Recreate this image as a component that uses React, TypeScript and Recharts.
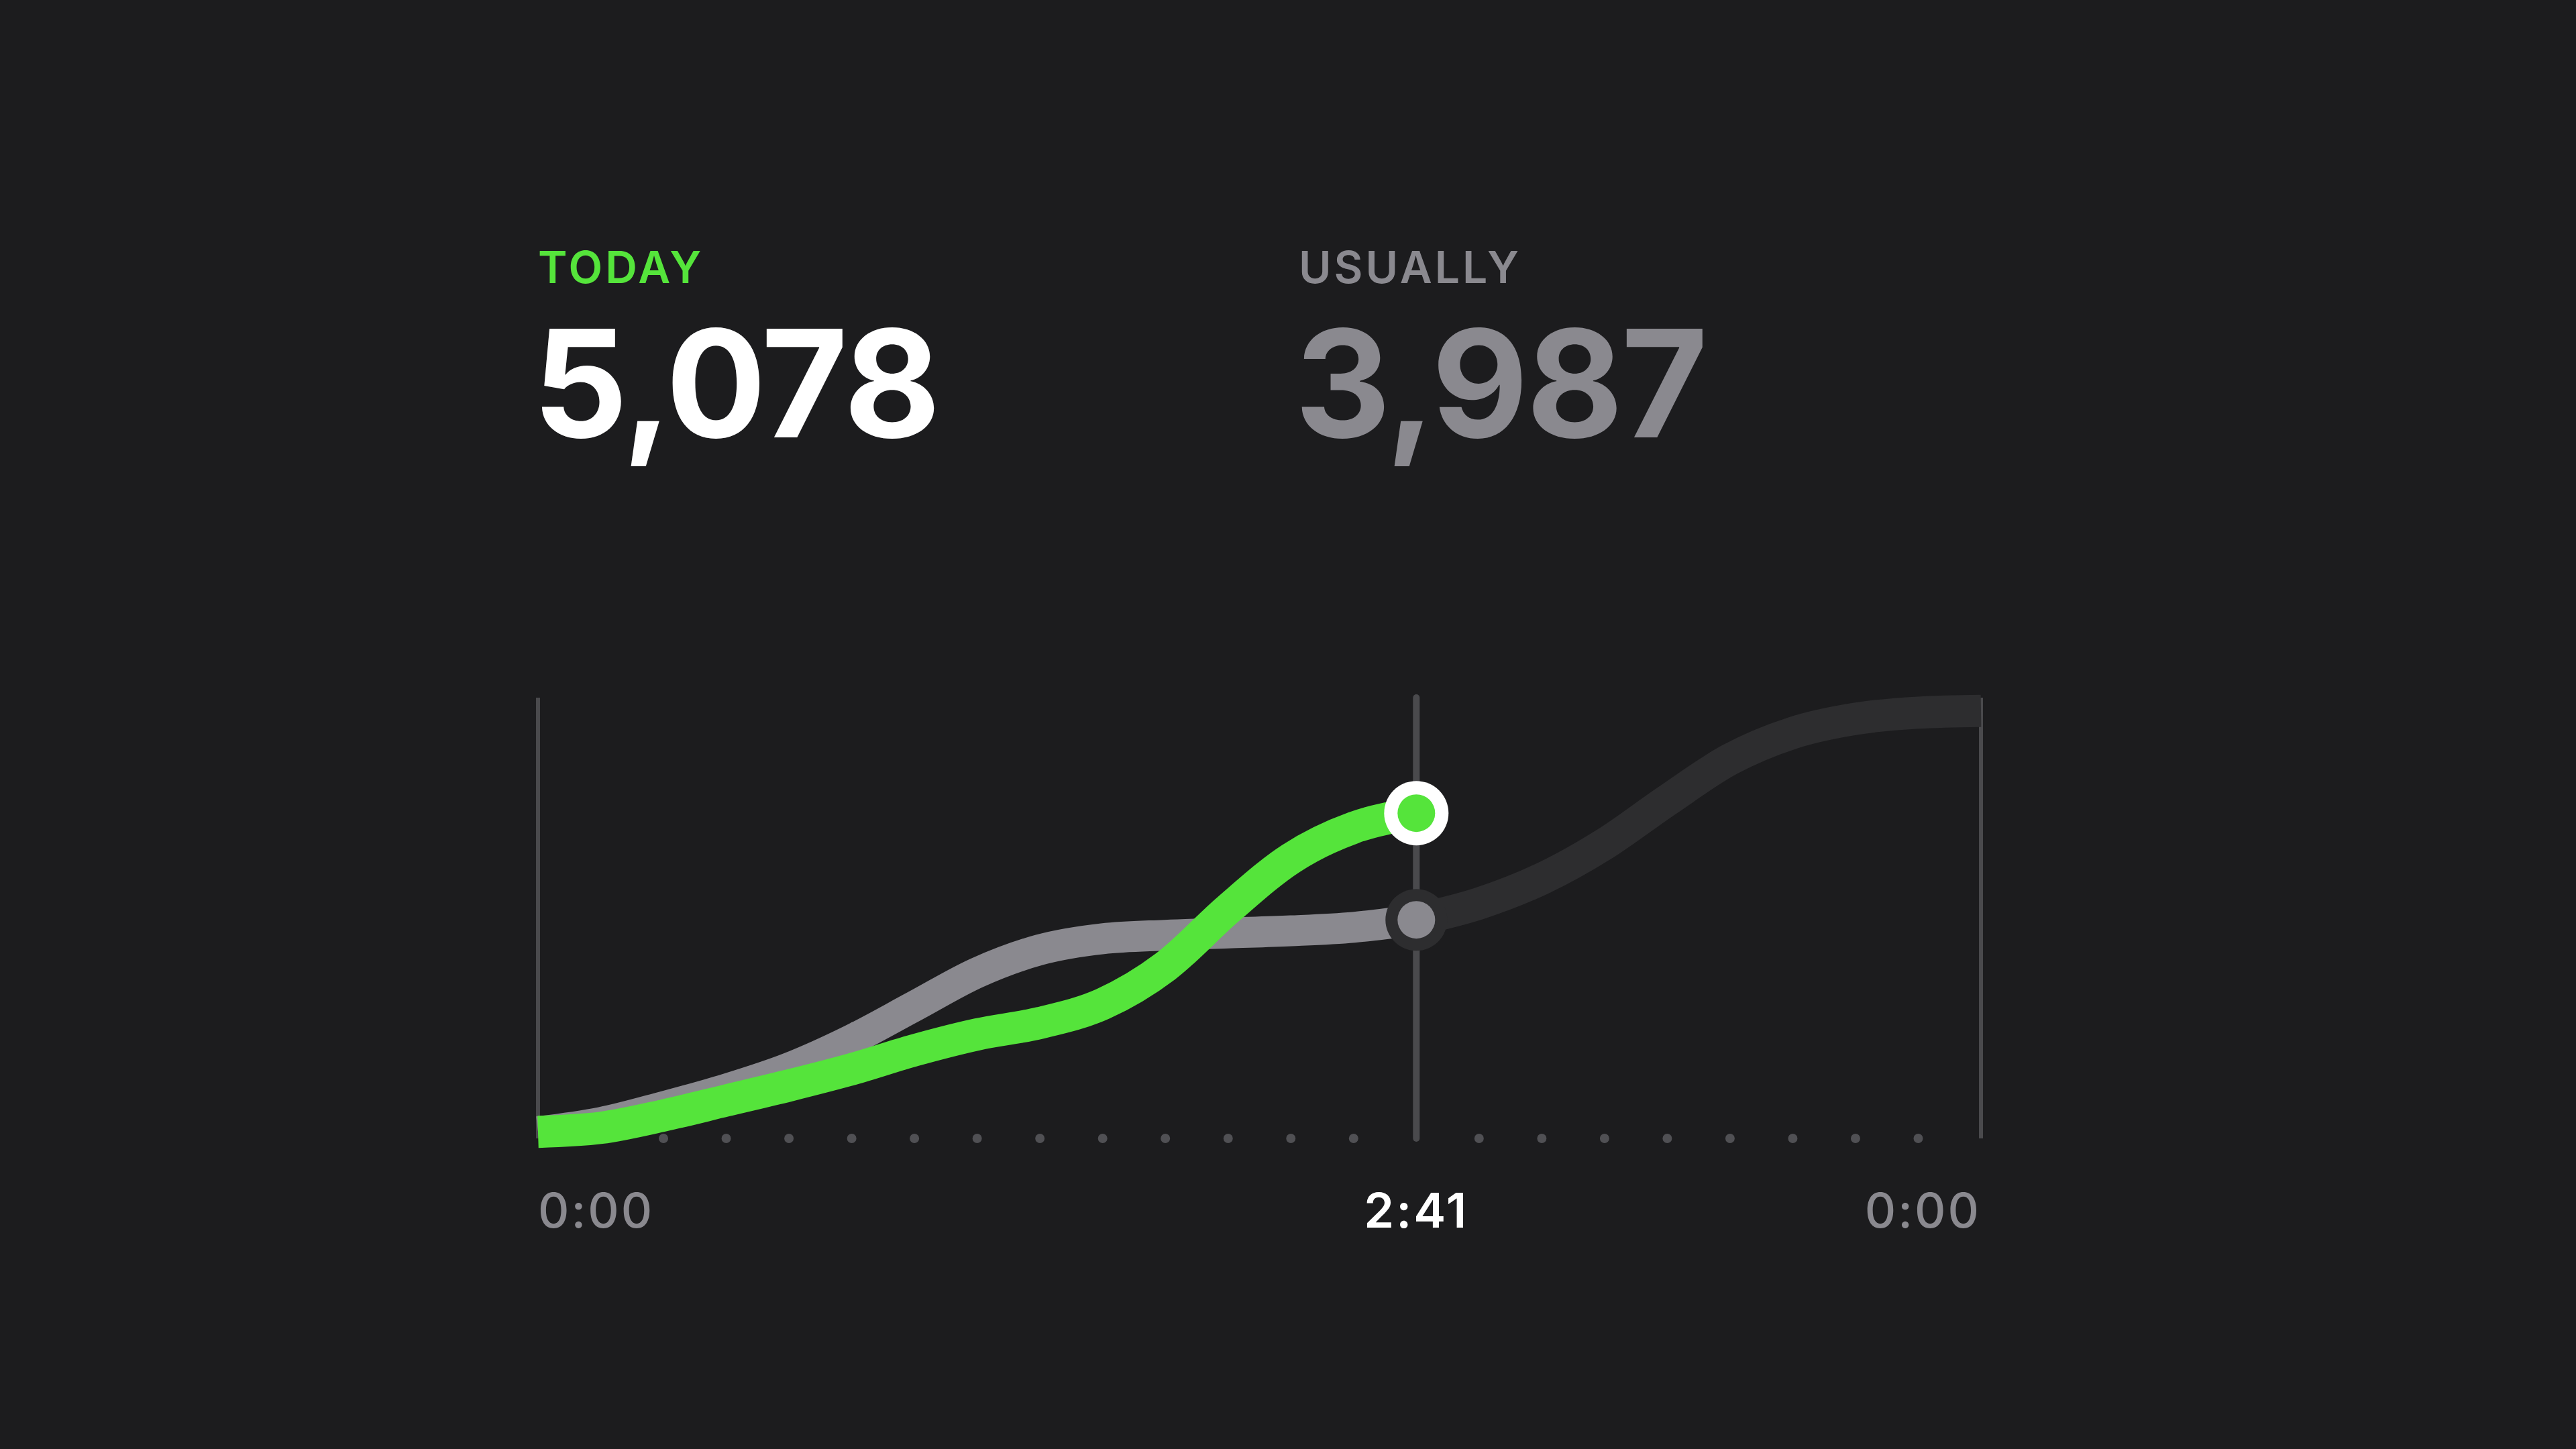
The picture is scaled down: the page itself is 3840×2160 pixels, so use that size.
import { ComposedChart, Line, XAxis, YAxis, ReferenceLine, ReferenceDot } from 'recharts';

// time slots across the day, "now" sits at slot 14
const slots = [0, 1, 2, 3, 4, 5, 6, 7, 8, 9, 10, 11, 12, 13, 14, 15, 16, 17, 18, 19, 20, 21, 22, 23];
const NOW = 14;

// cumulative progress (0-100 of the chart height)
const todaySteps = [1.5, 2.4, 5.2, 8.6, 12, 15.7, 20, 23.6, 26.2, 30.5, 39, 52, 63.5, 70.5, 73.8];
const usualSteps = [1.5, 3.6, 7.2, 11.2, 16, 22.4, 30, 37.6, 42.8, 45.3, 46.1, 46.6, 47.1, 47.9, 49.6];
const usualLaterSteps = [49.6, 53.3, 58.9, 66.8, 76.7, 86, 92, 95.2, 96.6, 97];

const tickSlots = [0, 14, 23];
const tickLabels = ['0:00', '2:41', '0:00'];
// slot 1 sits under the green line, so its dot is not shown
const dotSlots = [2, 3, 4, 5, 6, 7, 8, 9, 10, 11, 12, 13, 15, 16, 17, 18, 19, 20, 21, 22];

const todayTotal = '5,078';
const usualTotal = '3,987';

const BG = '#1c1c1e';
const GREEN = '#55e43b';
const GRAY = '#8a898f';
const DARK = '#2d2d2f';
const RULE = '#4a4a4d';
const FONT = 'Inter, "Noto Sans", sans-serif';

const chartData = slots.map((slot, i) => ({
    slot,
    today: i <= NOW ? todaySteps[i] : null,
    usual: i <= NOW ? usualSteps[i] : null,
    later: i >= NOW ? usualLaterSteps[i - NOW] : null,
}));

const TimeTick = ({ x, y, payload, index }: any) => {
    const isNow = payload.value === NOW;
    const anchor = index === 0 ? 'start' : isNow ? 'middle' : 'end';
    return (
        <text
            x={x}
            y={y + 133}
            textAnchor={anchor}
            fontFamily={FONT}
            fontSize={72}
            fontWeight={isNow ? 600 : 500}
            letterSpacing={3}
            fill={isNow ? '#ffffff' : GRAY}
        >
            {tickLabels[index]}
        </text>
    );
};

const TodayMarker = (props: any) => {
    const { cx, cy, index } = props;
    if (index !== NOW || cy == null) return <g key={`t-${index}`} />;
    return (
        <g key="today-now">
            <circle cx={cx} cy={cy} r={48} fill="#ffffff" />
            <circle cx={cx} cy={cy} r={28} fill={GREEN} />
        </g>
    );
};

const UsualMarker = (props: any) => {
    const { cx, cy, index } = props;
    if (index !== NOW || cy == null) return <g key={`u-${index}`} />;
    return (
        <g key="usual-now">
            <circle cx={cx} cy={cy} r={46} fill={DARK} />
            <circle cx={cx} cy={cy} r={28} fill={GRAY} />
        </g>
    );
};

function Header() {
    return (
        <svg width={3840} height={2160} style={{ position: 'absolute', left: 0, top: 0, pointerEvents: 'none' }}>
            <text x={802} y={422} fontFamily={FONT} fontSize={66} fontWeight={600} letterSpacing={4} fill={GREEN}>TODAY</text>
            <text x={794} y={652} fontFamily={FONT} fontSize={222} fontWeight={700} letterSpacing={-3} fill="#ffffff">{todayTotal}</text>
            <text x={1936} y={422} fontFamily={FONT} fontSize={66} fontWeight={600} letterSpacing={4} fill={GRAY}>USUALLY</text>
            <text x={1930} y={652} fontFamily={FONT} fontSize={222} fontWeight={700} letterSpacing={-3} fill={GRAY}>{usualTotal}</text>
        </svg>
    );
}

export default function App() {
    return (
        <div style={{ position: 'absolute', left: 0, top: 0, width: 3840, height: 2160, background: BG, overflow: 'hidden' }}>
            <ComposedChart
                width={3840}
                height={2160}
                data={chartData}
                margin={{ top: 1040, right: 887, bottom: 313, left: 802 }}
            >
                <XAxis
                    dataKey="slot"
                    type="number"
                    domain={[0, 23]}
                    ticks={tickSlots}
                    interval={0}
                    axisLine={false}
                    tickLine={false}
                    tickSize={0}
                    tickMargin={0}
                    height={150}
                    tick={<TimeTick />}
                />
                <YAxis hide domain={[0, 100]} width={0} />
                <ReferenceLine x={0} stroke={RULE} strokeWidth={6} />
                <ReferenceLine x={23} stroke={RULE} strokeWidth={6} />
                <ReferenceLine x={NOW} stroke={RULE} strokeWidth={10} strokeLinecap="round" />
                {dotSlots.map((s) => (
                    <ReferenceDot key={s} x={s} y={0} r={7} fill="#505054" stroke="none" />
                ))}
                <Line type="monotone" dataKey="later" stroke={DARK} strokeWidth={48} dot={false} isAnimationActive={false} />
                <Line type="monotone" dataKey="usual" stroke={GRAY} strokeWidth={46} dot={UsualMarker} activeDot={false} isAnimationActive={false} />
                <Line type="monotone" dataKey="today" stroke={GREEN} strokeWidth={48} dot={TodayMarker} activeDot={false} isAnimationActive={false} />
            </ComposedChart>
            <Header />
        </div>
    );
}
